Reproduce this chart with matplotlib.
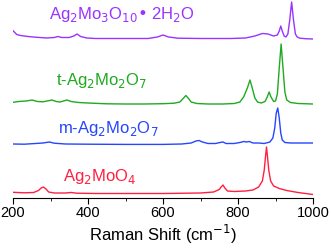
import numpy as np
import matplotlib
matplotlib.use("Agg")
import matplotlib.pyplot as plt
from matplotlib.ticker import MultipleLocator

plt.rcParams['font.family'] = ['Liberation Sans', 'DejaVu Sans']

# Raman spectra (x in cm-1, y = stacked intensity, a.u.)
hydrate_x = [200, 210, 220, 240, 260, 290, 310, 320, 330, 350, 362, 371, 380, 397, 420, 500, 560,
             585, 600, 615, 640, 700, 780, 820, 845, 865, 880, 895, 905, 910, 914, 918, 923, 928,
             933, 938, 943, 948, 953, 958, 965, 980, 1000]
hydrate_y = [167.3, 163.5, 162.5, 161.5, 160.8, 160, 160.5, 161.5, 160.5, 160.5, 162, 164, 161.5,
             160, 159.5, 159.5, 159.5, 161, 163, 161, 159.8, 159.5, 159.5, 160, 162, 164.5, 164,
             162, 163, 167, 172, 167, 162, 161, 164, 178, 196, 178, 164, 161, 159.8, 159.3, 159]

t_x = [200, 215, 235, 251, 265, 280, 295, 304, 315, 325, 335, 344, 355, 375, 400, 450, 500, 550,
       600, 630, 645, 655, 661, 667, 675, 690, 720, 760, 790, 805, 815, 825, 832, 838, 845, 852,
       862, 872, 878, 883, 888, 895, 900, 905, 910, 915, 920, 925, 930, 940, 960, 1000]
t_y = [95.7, 96.5, 97, 98, 96.5, 96.2, 97.3, 98, 96.5, 96, 97, 98, 96.5, 95.5, 95, 94.2, 94, 94,
       94.3, 94.8, 96, 100, 102.5, 100, 96, 94.5, 94, 94, 94.5, 96, 101, 110, 118, 110, 100, 96,
       95, 96.5, 101, 106, 101, 96.5, 97, 104, 130, 154, 130, 106, 98, 95.5, 94.5, 94]

m_x = [200, 230, 260, 280, 297, 310, 340, 400, 500, 600, 650, 675, 688, 696, 705, 720, 740, 752,
       760, 768, 790, 805, 816, 822, 830, 840, 855, 870, 885, 893, 898, 902, 906, 910, 914, 918,
       925, 940, 970, 1000]
m_y = [54, 53.8, 54.5, 55, 56, 54.8, 54, 53.8, 53.6, 53.6, 54, 55, 57, 57.5, 56, 54.5, 54.5, 55.5,
       56, 54.5, 54.5, 55.5, 56.5, 56, 56.5, 55, 55, 54.5, 56, 60, 70, 85, 90, 80, 65, 58, 55.5,
       55, 55, 55]

ag2moo4_x = [200, 230, 255, 268, 275, 281, 288, 295, 310, 340, 355, 370, 420, 500, 600, 700, 735,
             750, 755, 760, 765, 772, 790, 820, 840, 855, 865, 870, 873, 876, 879, 882, 887, 895,
             910, 930, 960, 1000]
ag2moo4_y = [5.7, 5.2, 5.5, 7.5, 10, 11, 9, 6, 5, 5, 5.5, 4.8, 4.5, 4.5, 4.5, 5, 6, 8.5, 11, 13,
             10, 7, 6.5, 7, 8, 11, 17, 28, 40, 51, 40, 28, 17, 12, 9.5, 7.5, 5.5, 3.5]

labels = ['Ag$_2$Mo$_3$O$_{10}$• 2H$_2$O', 't-Ag$_2$Mo$_2$O$_7$', 'm-Ag$_2$Mo$_2$O$_7$', 'Ag$_2$MoO$_4$']
colors = ['#9933ff', '#1faa1f', '#2645ff', '#ff2040']
label_pos = [(491, 184), (437, 118), (454, 70), (432, 22)]

fig = plt.figure(figsize=(3.31, 2.49), dpi=100)
ax = fig.add_axes([13 / 331, 51 / 249, 300 / 331, 198 / 249])

series = [(hydrate_x, hydrate_y), (t_x, t_y), (m_x, m_y), (ag2moo4_x, ag2moo4_y)]
for (x, y), c, lab, (lx, ly) in zip(series, colors, labels, label_pos):
    ax.plot(x, y, color=c, lw=1.0)
    ax.text(lx, ly, lab, color=c, fontsize=12, ha='center', va='center')

ax.set_xlim(200, 1000)
ax.set_ylim(0, 198)
for s in ['left', 'right', 'top']:
    ax.spines[s].set_visible(False)
ax.set_yticks([])
ax.set_xticks([200, 400, 600, 800, 1000])
ax.xaxis.set_minor_locator(MultipleLocator(100))
ax.tick_params(axis='x', which='major', length=4, labelsize=10.5, pad=2)
ax.tick_params(axis='x', which='minor', length=2)
ax.set_xlabel('Raman Shift (cm$^{-1}$)', fontsize=12, labelpad=2)

fig.savefig('out.png', dpi=100)
